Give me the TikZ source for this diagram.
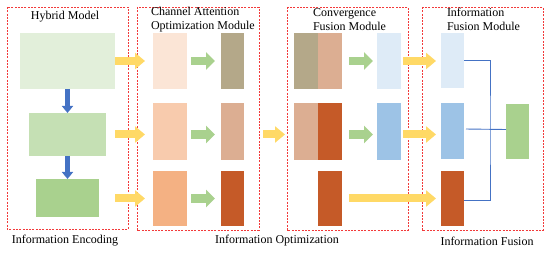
\documentclass[tikz,border=0pt]{standalone}
\usepackage{fontspec}
\setmainfont{Liberation Serif}
\usetikzlibrary{arrows.meta}
\definecolor{gA}{HTML}{E2EFDA}
\definecolor{gB}{HTML}{C5E0B4}
\definecolor{gC}{HTML}{A9D18E}
\definecolor{oA}{HTML}{FBE5D6}
\definecolor{oB}{HTML}{F8CBAD}
\definecolor{oC}{HTML}{F4B183}
\definecolor{tanc}{HTML}{B4A889}
\definecolor{pinkc}{HTML}{DCAE92}
\definecolor{rustc}{HTML}{C55A28}
\definecolor{bA}{HTML}{DEEBF7}
\definecolor{bB}{HTML}{9DC3E6}
\definecolor{yarr}{HTML}{FFD966}
\definecolor{garr}{HTML}{A9D18E}
\definecolor{blarr}{HTML}{4472C4}
\definecolor{dred}{HTML}{F23A3A}
\begin{document}
\begin{tikzpicture}[x=1pt,y=-1pt,
  font=\fontsize{12pt}{14pt}\selectfont,
  box/.style={draw=none,inner sep=0,outer sep=0,anchor=north west},
  panel/.style={draw=dred,line width=0.8pt,dash pattern=on 2pt off 1.3pt},
  yarrow/.style={draw=yarr,line width=8pt,-{Triangle[width=16pt,length=10pt]}},
  garrow/.style={draw=garr,line width=8.5pt,-{Triangle[width=17pt,length=9pt]}},
  barrow/.style={draw=blarr,line width=5pt,-{Triangle[width=11pt,length=7pt]}},
  bline/.style={draw=blarr,line width=0.9pt},
  lbl/.style={inner sep=0,outer sep=0}]
\useasboundingbox (0,0) rectangle (550,253);
% panels
\draw[panel] (7,7) rectangle (128,229);
\draw[panel] (137,7) rectangle (259,230);
\draw[panel] (287,7) rectangle (408,230);
\draw[panel] (422,7) rectangle (543,230);
% row coordinates
\coordinate (r1) at (0,61);
\coordinate (r2) at (0,134.5);
\coordinate (r3) at (0,198.5);
\coordinate (j) at (490,130);
% panel 1
\node[box,fill=gA,minimum width=95pt,minimum height=56pt] (A) at (20,33) {};
\node[box,fill=gB,minimum width=77pt,minimum height=43pt] (B) at (29,113) {};
\node[box,fill=gC,minimum width=63pt,minimum height=38pt] (C) at (36,179) {};
\draw[barrow] (A.south) -- (B.north);
\draw[barrow] (B.south) -- (C.north);
% panel 2
\node[box,fill=oA,minimum width=34pt,minimum height=56pt] (a1) at (153,33) {};
\node[box,fill=oB,minimum width=34pt,minimum height=57pt] (a2) at (153,103) {};
\node[box,fill=oC,minimum width=34pt,minimum height=55pt] (a3) at (153,171) {};
\node[box,fill=tanc,minimum width=23pt,minimum height=56pt] (b1) at (221,33) {};
\node[box,fill=pinkc,minimum width=23pt,minimum height=57pt] (b2) at (221,103) {};
\node[box,fill=rustc,minimum width=23pt,minimum height=55pt] (b3) at (221,171) {};
% panel 3
\node[box,fill=tanc,minimum width=24pt,minimum height=56pt] (c1l) at (294,33) {};
\node[box,fill=pinkc,minimum width=24pt,minimum height=56pt] (c1r) at (318,33) {};
\node[box,fill=pinkc,minimum width=24pt,minimum height=57pt] (c2l) at (294,103) {};
\node[box,fill=rustc,minimum width=24pt,minimum height=57pt] (c2r) at (318,103) {};
\node[box,fill=rustc,minimum width=24pt,minimum height=55pt] (c3) at (318,171) {};
\node[box,fill=bA,minimum width=24pt,minimum height=56pt] (d1) at (377,33) {};
\node[box,fill=bB,minimum width=24pt,minimum height=57pt] (d2) at (377,103) {};
% panel 4
\node[box,fill=bA,minimum width=23pt,minimum height=55pt] (e1) at (441,33) {};
\node[box,fill=bB,minimum width=23pt,minimum height=56pt] (e2) at (441,103) {};
\node[box,fill=rustc,minimum width=23pt,minimum height=55pt] (e3) at (441,171) {};
\node[box,fill=gC,minimum width=23pt,minimum height=55pt] (G) at (506,104) {};
% yellow arrows panel 1 -> 2
\draw[yarrow,shorten >=8pt] (A.east |- r1) -- (a1.west |- r1);
\draw[yarrow,shorten >=8pt] (A.east |- r2) -- (a2.west |- r2);
\draw[yarrow,shorten >=8pt] (A.east |- r3) -- (a3.west |- r3);
% green arrows panel 2
\draw[garrow,shorten <=4pt,shorten >=6pt] (a1.east |- r1) -- (b1.west |- r1);
\draw[garrow,shorten <=4pt,shorten >=6pt] (a2.east |- r2) -- (b2.west |- r2);
\draw[garrow,shorten <=4pt,shorten >=6pt] (a3.east |- r3) -- (b3.west |- r3);
% panel 2 -> 3
\draw[yarrow,shorten <=19pt,shorten >=9pt] (b2.east |- r2) -- (c2l.west |- r2);
% green arrows panel 3
\draw[garrow,shorten <=7pt,shorten >=4pt] (c1r.east |- r1) -- (d1.west |- r1);
\draw[garrow,shorten <=7pt,shorten >=4pt] (c2r.east |- r2) -- (d2.west |- r2);
% panel 3 -> 4
\draw[yarrow,shorten <=2pt,shorten >=5pt] (d1.east |- r1) -- (e1.west |- r1);
\draw[yarrow,shorten <=2pt,shorten >=5pt] (d2.east |- r2) -- (e2.west |- r2);
\draw[yarrow,shorten <=7pt,shorten >=5pt] (c3.east |- r3) -- (e3.west |- r3);
% blue lines
\draw[bline] (e1.east) -| (j) |- ([yshift=-1.5pt]e3.east);
\draw[bline,shorten <=2pt] ([yshift=2pt]e2.east) -- ([yshift=2pt]G.west);
% titles
\node[lbl] (t1) at (65,17) {Hybrid Model};
\node[lbl,align=left,anchor=west] (t2) at (151,19.5) {Channel Attention\\Optimization Module};
\node[lbl,align=left,anchor=west] (t3) at (313,19.5) {Convergence\\Fusion Module};
\node[lbl,align=left,anchor=west] (t4) at (447,19.5) {Information\\Fusion Module};
\node[lbl] (l1) at (65,241) {Information Encoding};
\node[lbl] (l2) at (277,241) {Information Optimization};
\node[lbl] (l3) at (487,241) {Information Fusion};
\end{tikzpicture}
\end{document}
